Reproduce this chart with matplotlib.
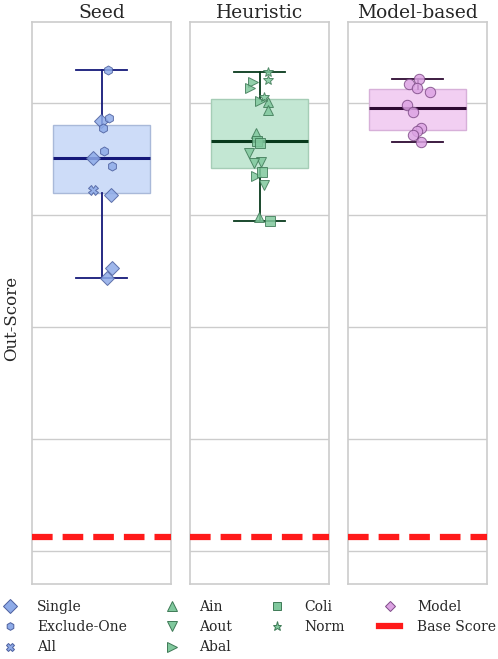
import matplotlib.pyplot as plt
import numpy as np
from matplotlib.lines import Line2D

plt.rcParams['font.family'] = ['DejaVu Serif']
plt.rcParams['text.color'] = '#262626'

# --- data (Out-Score values) ---
seed_single = [0.7920, 0.7756, 0.7589, 0.7262, 0.7217]
seed_single_x = [-0.004, -0.059, 0.066, 0.078, 0.037]
seed_excl = [0.8147, 0.7932, 0.7887, 0.7786, 0.7720]
seed_excl_x = [0.049, 0.056, 0.009, 0.020, 0.078]
seed_all = [0.7612]
seed_all_x = [-0.059]

heu_norm = [0.8138, 0.8101, 0.8025]
heu_norm_x = [0.063, 0.063, 0.035]
heu_abal = [0.8094, 0.8067, 0.8010, 0.7674]
heu_abal_x = [-0.045, -0.068, 0.004, -0.027]
heu_ain = [0.8004, 0.7967, 0.7865, 0.7492]
heu_ain_x = [0.059, 0.063, -0.027, -0.004]
heu_aout = [0.7775, 0.7738, 0.7731, 0.7634]
heu_aout_x = [-0.076, 0.011, -0.037, 0.035]
heu_coli = [0.7832, 0.7820, 0.7692, 0.7473]
heu_coli_x = [-0.020, 0.004, 0.016, 0.076]

model = [0.8107, 0.8085, 0.8066, 0.8048, 0.7991, 0.7961, 0.7887, 0.7876, 0.7857, 0.7827]
model_x = [0.011, -0.061, -0.006, 0.090, -0.073, -0.030, 0.025, -0.006, -0.030, 0.025]

base_score = 0.6062
titles = ['Seed', 'Heuristic', 'Model-based']

# colours per panel: fill, box edge, median/whisker, point face, point edge
blue = ('#cddcf8', '#a9b9d9', '#15197a', '#8eabe8', '#4c5f9e')
green = ('#c3e7d3', '#a5cdb6', '#083a1c', '#80c89d', '#3f7a57')
pink = ('#f2cff2', '#d7b0d9', '#2e0b33', '#dca3e3', '#7d4a86')

fig = plt.figure(figsize=(4.98, 6.59), dpi=100)
lefts = [32, 190, 348]
axes = [fig.add_axes([l / 498, 1 - 584 / 659, 139 / 498, 562 / 659]) for l in lefts]

panels = [
    (blue, [(seed_single, seed_single_x, 'D', 7.0, 'Single'),
            (seed_excl, seed_excl_x, 'h', 6.5, 'Exclude-One'),
            (seed_all, seed_all_x, 'X', 7.0, 'All')]),
    (green, [(heu_ain, heu_ain_x, '^', 7.5, 'Ain'),
             (heu_aout, heu_aout_x, 'v', 7.5, 'Aout'),
             (heu_abal, heu_abal_x, '>', 7.5, 'Abal'),
             (heu_coli, heu_coli_x, 's', 6.5, 'Coli'),
             (heu_norm, heu_norm_x, '*', 7.5, 'Norm')]),
    (pink, [(model, model_x, 'o', 7.5, 'Model')]),
]

for ax, title, (cols, groups) in zip(axes, titles, panels):
    fill, edge, dark, face, pedge = cols
    allvals = np.concatenate([g[0] for g in groups])
    bp = ax.boxplot([allvals], positions=[0], widths=0.7, whis=1.5,
                    showfliers=False, patch_artist=True,
                    medianprops=dict(color=dark, lw=2.2),
                    whiskerprops=dict(color=dark, lw=1.3),
                    capprops=dict(color=dark, lw=1.3),
                    boxprops=dict(facecolor=fill, edgecolor=edge, lw=1.0))
    for c in bp['caps']:
        c.set_xdata([-0.18, 0.18])
    for vals, xs, m, ms, lab in groups:
        ax.plot(xs, vals, ls='none', marker=m, ms=ms, mfc=face, mec=pedge,
                mew=0.7, alpha=0.85, zorder=5)
    ax.axhline(base_score, color='#ff1a1a', lw=4.5, ls=(0, (3.3, 1.6)), zorder=4)
    ax.set_xlim(-0.5, 0.5)
    ax.set_ylim(0.5853, 0.8362)
    ax.set_yticks([0.60, 0.65, 0.70, 0.75, 0.80])
    ax.set_xticks([])
    ax.tick_params(left=False, labelleft=False)
    ax.grid(axis='y', color='#cccccc', lw=1.0)
    ax.set_axisbelow(True)
    for s in ax.spines.values():
        s.set_color('#cccccc')
        s.set_linewidth(1.2)
    ax.set_title(title, fontsize=13.4, pad=3)

fig.text(12 / 498, 1 - 318 / 659, 'Out-Score', rotation=90, fontsize=12,
         ha='center', va='center')

handles = [
    Line2D([], [], ls='none', marker='D', ms=7, mfc=blue[3], mec=blue[4], mew=0.7, label='Single'),
    Line2D([], [], ls='none', marker='h', ms=5.5, mfc=blue[3], mec=blue[4], mew=0.7, label='Exclude-One'),
    Line2D([], [], ls='none', marker='X', ms=6, mfc=blue[3], mec=blue[4], mew=0.7, label='All'),
    Line2D([], [], ls='none', marker='^', ms=6.5, mfc=green[3], mec=green[4], mew=0.7, label='Ain'),
    Line2D([], [], ls='none', marker='v', ms=6.5, mfc=green[3], mec=green[4], mew=0.7, label='Aout'),
    Line2D([], [], ls='none', marker='>', ms=6.5, mfc=green[3], mec=green[4], mew=0.7, label='Abal'),
    Line2D([], [], ls='none', marker='s', ms=6, mfc=green[3], mec=green[4], mew=0.7, label='Coli'),
    Line2D([], [], ls='none', marker='*', ms=6.5, mfc=green[3], mec=green[4], mew=0.7, label='Norm'),
    Line2D([], [], ls='none', marker='D', ms=5.5, mfc=pink[3], mec=pink[4], mew=0.7, label='Model'),
    Line2D([], [], color='#ff1a1a', lw=4.5, label='Base Score'),
]
fig.legend(handles=handles, ncol=4, loc='lower left', bbox_to_anchor=(-0.026, -0.012),
           frameon=False, fontsize=10, handlelength=1.5, handletextpad=1.2,
           columnspacing=2.5, labelspacing=0.45)

fig.savefig('out.png', dpi=100)
